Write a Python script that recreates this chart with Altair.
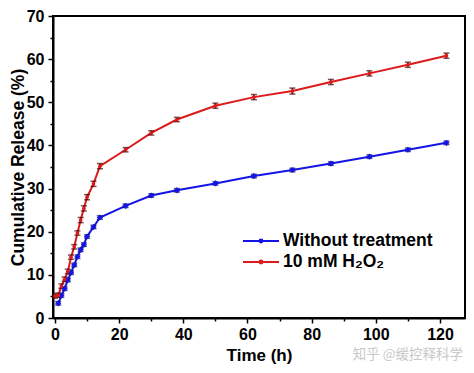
import altair as alt
import pandas as pd

# ---- data ----
time_blue = [1, 2, 3, 4, 5, 6, 7, 8, 9, 10, 12, 14, 22, 30, 38, 50, 62, 74, 86, 98, 110, 122]
release_blue = [3.4, 5.2, 6.8, 8.8, 10.5, 12.3, 14.2, 15.8, 17.0, 18.9, 21.1, 23.3,
                26.0, 28.4, 29.6, 31.2, 32.9, 34.3, 35.8, 37.4, 39.0, 40.6]
err_blue = [0.4, 0.4, 0.4, 0.4, 0.4, 0.4, 0.4, 0.4, 0.4, 0.4, 0.4, 0.4,
            0.4, 0.4, 0.4, 0.4, 0.4, 0.4, 0.4, 0.4, 0.4, 0.4]

time_red = [0, 1, 2, 3, 4, 5, 6, 7, 8, 9, 10, 12, 14, 22, 30, 38, 50, 62, 74, 86, 98, 110, 122]
release_red = [5.1, 5.3, 7.4, 9.0, 10.8, 14.1, 16.5, 19.7, 22.7, 25.4, 28.0, 31.1, 35.2,
               39.0, 42.9, 46.0, 49.2, 51.2, 52.6, 54.7, 56.7, 58.7, 60.8]
err_red = [0.5, 0.5, 0.5, 0.5, 0.5, 0.5, 0.5, 0.5, 0.6, 0.6, 0.6, 0.6, 0.6,
           0.5, 0.5, 0.5, 0.6, 0.6, 0.7, 0.6, 0.6, 0.6, 0.6]

series_names = ["Without treatment", "10 mM H\u2082O\u2082"]
series_colors = ["#1414e6", "#dc1a1a"]
x_ticks = list(range(0, 121, 10))
y_ticks = list(range(0, 71, 5))
x_title = "Time (h)"
y_title = "Cumulative Release (%)"
watermark = "知乎 @缓控释科学"

rows = []
for t, v, e in zip(time_blue, release_blue, err_blue):
    rows.append({"time": t, "release": v, "lo": v - e, "hi": v + e, "series": series_names[0]})
for t, v, e in zip(time_red, release_red, err_red):
    rows.append({"time": t, "release": v, "lo": v - e, "hi": v + e, "series": series_names[1]})
df = pd.DataFrame(rows)

FONT = "Liberation Sans"

x_scale = alt.Scale(domain=[-0.62, 127.8], nice=False, zero=False)
y_scale = alt.Scale(domain=[0, 70], nice=False)

x_axis = alt.Axis(
    values=x_ticks,
    labelExpr="datum.value % 20 === 0 ? datum.label : ''",
    tickSize={"condition": {"test": "datum.value % 20 === 0", "value": 5}, "value": 3},
    labelFlush=False,
    labelPadding=3,
    titlePadding=5,
)
y_axis = alt.Axis(
    values=y_ticks,
    labelExpr="datum.value % 10 === 0 ? datum.label : ''",
    tickSize={"condition": {"test": "datum.value % 10 === 0", "value": 5}, "value": 3},
    labelFlush=False,
    labelPadding=4,
    titleX=-26,
    titleFontSize=17.5,
)


def xe(field):
    return alt.X(field, scale=x_scale, axis=x_axis, title=x_title)


def ye(field):
    return alt.Y(field, scale=y_scale, axis=y_axis, title=y_title)


base = alt.Chart(df)

lines = base.mark_line(strokeWidth=2).encode(
    x=xe("time:Q"),
    y=ye("release:Q"),
    color=alt.Color(
        "series:N",
        scale=alt.Scale(domain=series_names, range=series_colors),
        sort=series_names,
        legend=alt.Legend(
            title=None,
            orient="none",
            legendX=198,
            legendY=215,
            rowPadding=2,
            symbolType="M-2,0H2M-0.16,0A0.16,0.16 0 1,0 0.16,0A0.16,0.16 0 1,0 -0.16,0",
            symbolSize=324,
            symbolStrokeWidth=2,
            labelFont=FONT,
            labelFontWeight="bold",
            labelFontSize=17.5,
            labelColor="black",
            labelOffset=12,
        ),
    ),
    detail="series:N",
)

err_blue_layer = base.transform_filter(alt.datum.series == series_names[0]).mark_errorbar(
    ticks={"size": 6}, color="#0a0a60", thickness=1.5
).encode(x=xe("time:Q"), y=ye("lo:Q"), y2="hi:Q")

err_red_layer = base.transform_filter(alt.datum.series == series_names[1]).mark_errorbar(
    ticks={"size": 6}, color="#4a0808", thickness=1.5
).encode(x=xe("time:Q"), y=ye("lo:Q"), y2="hi:Q")

pts_blue = base.transform_filter(alt.datum.series == series_names[0]).mark_point(
    shape="diamond", filled=True, size=38, color=series_colors[0], opacity=1
).encode(x=xe("time:Q"), y=ye("release:Q"))

pts_red = base.transform_filter(alt.datum.series == series_names[1]).mark_circle(
    size=14, color=series_colors[1], opacity=1
).encode(x=xe("time:Q"), y=ye("release:Q"))

chart = (
    alt.layer(lines, err_blue_layer, err_red_layer, pts_blue, pts_red)
    .properties(
        width=412,
        height=302,
        autosize=alt.AutoSizeParams(type="none"),
        padding={"left": 45, "top": 8, "right": 1, "bottom": 47},
        title=alt.TitleParams(
            watermark,
            orient="bottom",
            anchor="end",
            font="Noto Sans CJK SC",
            fontSize=13.5,
            fontWeight="normal",
            color="#c8c8c8",
            dx=-2,
            dy=-19,
        ),
    )
    .configure_view(stroke="black", strokeWidth=2)
    .configure_axis(
        domainColor="black",
        domainWidth=2,
        tickColor="black",
        tickWidth=1.5,
        grid=False,
        labelFont=FONT,
        labelFontWeight="bold",
        labelFontSize=16,
        labelColor="black",
        titleFont=FONT,
        titleFontWeight="bold",
        titleFontSize=17,
        titleColor="black",
    )
)

chart.save("out.html", embed_options={"renderer": "svg", "actions": False})
